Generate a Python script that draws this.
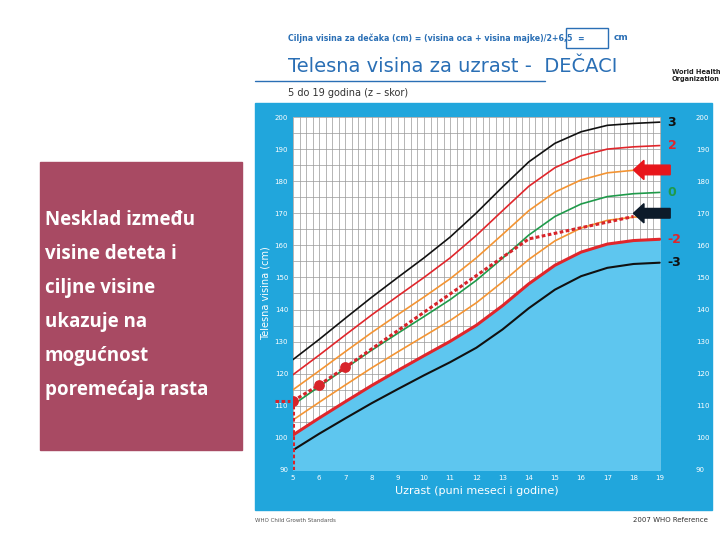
import numpy as np, pandas as pd, seaborn as sns
import matplotlib.pyplot as plt
from matplotlib.patches import Rectangle, FancyArrow

ages = [5,6,7,8,9,10,11,12,13,14,15,16,17,18,19]
z_m3 = [96.2,101.3,106.1,110.8,115.2,119.5,123.6,128.1,133.8,140.4,146.2,150.4,153.0,154.2,154.6]
z_m2 = [100.9,106.2,111.3,116.3,121.0,125.6,130.1,135.1,141.2,148.0,153.8,157.9,160.4,161.5,161.9]
z_m1 = [105.6,111.1,116.5,121.8,126.8,131.7,136.6,142.1,148.6,155.6,161.4,165.4,167.8,168.8,169.2]
z_0  = [110.3,116.0,121.7,127.3,132.6,137.8,143.1,149.1,156.0,163.2,169.0,172.9,175.2,176.1,176.5]
z_p1 = [115.0,120.9,126.9,132.8,138.4,143.9,149.6,156.1,163.4,170.8,176.6,180.4,182.6,183.4,183.8]
z_p2 = [119.7,125.8,132.1,138.3,144.2,150.0,156.1,163.1,170.8,178.4,184.2,187.9,190.0,190.7,191.1]
z_p3 = [124.4,130.7,137.3,143.8,150.0,156.1,162.6,170.1,178.2,186.0,191.8,195.4,197.4,198.0,198.4]
curve_labels = ["-3","-2","-1","0","1","2","3"]
shown_labels = ["-3","-2","0","2","3"]
child_age = [5.0, 6.0, 7.0, 14.0, 18.0]
child_h   = [111.5, 116.5, 122.0, 162.0, 169.0]
yticks = [90,100,110,120,130,140,150,160,170,180,190,200]

sns.set_theme(style="white")
fig = plt.figure(figsize=(7.2,5.4), dpi=100)
fig.patch.set_facecolor("white")

fig.add_artist(Rectangle((255/720, 1-510/540), 457/720, 407/540, transform=fig.transFigure, color="#21a6dc", zorder=0))
fig.add_artist(Rectangle((40/720, 1-450/540), 202/720, 288/540, transform=fig.transFigure, color="#a84a63", zorder=0))
lines = ["Nesklad između","visine deteta i","ciljne visine","ukazuje na","mogućnost","poremećaja rasta"]
for i, t in enumerate(lines):
    fig.text(45/720, 1-(220+34*i)/540, t, color="white", fontsize=13.5, fontweight="bold", va="center", family="Open Sans")

fig.text(288/720, 1-38/540, "Ciljna visina za dečaka (cm) = (visina oca + visina majke)/2+6,5  =", color="#2a6fb5", fontsize=5.7, fontweight="bold", va="center")
fig.add_artist(Rectangle((566/720, 1-48/540), 42/720, 20/540, transform=fig.transFigure, fill=False, ec="#2a6fb5", lw=1))
fig.text(614/720, 1-38/540, "cm", color="#2a6fb5", fontsize=6.5, fontweight="bold", va="center")
fig.text(288/720, 1-67/540, "Telesna visina za uzrast -  DEČACI", color="#2a6fb5", fontsize=14, va="center")
fig.add_artist(plt.Line2D([255/720, 545/720], [1-81/540, 1-81/540], transform=fig.transFigure, color="#2a6fb5", lw=1))
fig.text(288/720, 1-93/540, "5 do 19 godina (z – skor)", color="#333", fontsize=7, va="center")
fig.text(672/720, 1-76/540, "World Health\nOrganization", color="#222", fontsize=4.8, va="center", fontweight="bold")
fig.text(255/720, 1-520/540, "WHO Child Growth Standards", color="#555", fontsize=4, va="center")
fig.text(708/720, 1-520/540, "2007 WHO Reference", color="#333", fontsize=5, va="center", ha="right")

ax = fig.add_axes([293/720, 1-470/540, 368/720, 353/540])
ax.set_facecolor("white")
ax.set_xlim(5, 19.05); ax.set_ylim(90, 200)
ax.set_xticks(np.arange(5, 19.01, 0.25), minor=True)
ax.set_yticks(np.arange(90, 201, 5), minor=True)
ax.grid(which="both", color="#999", lw=0.5)
ax.set_xticks(ages); ax.set_yticks(yticks)
ax.tick_params(length=0, labelcolor="white", labelsize=5)
ax.set_xticklabels([str(a) for a in ages])
ax.set_yticklabels([str(y) for y in yticks])
for s in ax.spines.values(): s.set_visible(False)

df = pd.DataFrame({"age": ages, "-3": z_m3, "-2": z_m2, "-1": z_m1, "0": z_0, "1": z_p1, "2": z_p2, "3": z_p3})
ax.fill_between(df["age"], 90, df["-2"], color="#5ec6ef", zorder=1)
styles = {"-3": ("#111", 1.5), "-2": ("#e0262b", 2.2), "-1": ("#f39433", 1.2), "0": ("#1f9a4a", 1.2),
          "1": ("#f39433", 1.2), "2": ("#e0262b", 1.2), "3": ("#111", 1.2)}
for lab in curve_labels:
    c, w = styles[lab]
    sns.lineplot(data=df, x="age", y=lab, ax=ax, color=c, lw=w, zorder=3)
for lab in shown_labels:
    ax.text(19.3, df[lab].iloc[-1], lab,
            color=("#1f9a4a" if lab=="0" else ("#e0262b" if lab in ("2","-2") else "#111")),
            fontsize=9, fontweight="bold", va="center", clip_on=False)
ax.set_xlabel("Uzrast (puni meseci i godine)", color="white", fontsize=8)
ax.set_ylabel("Telesna visina (cm)", color="white", fontsize=7)
ax.yaxis.set_label_coords(-0.06, 0.5)
sec = ax.secondary_yaxis("right")
sec.set_yticks(yticks); sec.tick_params(length=0, labelcolor="white", labelsize=5, pad=25)
for s in sec.spines.values(): s.set_visible(False)

sns.lineplot(x=child_age, y=child_h, ax=ax, color="#d8242a", lw=2.2, ls=(0,(1.2,0.8)), zorder=5)
ax.scatter(child_age[:3], child_h[:3], color="#d8242a", s=45, zorder=6)
ax.plot([4.3, 4.9], [child_h[0], child_h[0]], color="#d8242a", lw=2.2, ls=(0,(1.2,0.8)), clip_on=False, zorder=6)
ax.plot([5, 5], [90, child_h[0]], color="#d8242a", lw=2.2, ls=(0,(1.2,0.8)), zorder=6)
ax.add_patch(FancyArrow(19.4, 183.5, -1.0, 0, width=3, head_width=6, head_length=0.4, color="#e8161b", clip_on=False, zorder=7))
ax.add_patch(FancyArrow(19.4, 170, -1.0, 0, width=3, head_width=6, head_length=0.4, color="#0d1b2a", clip_on=False, zorder=7))
fig.savefig("out.png", dpi=100)
